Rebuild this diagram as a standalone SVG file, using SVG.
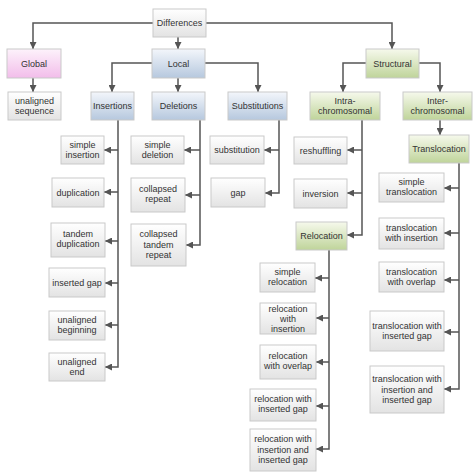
<svg xmlns="http://www.w3.org/2000/svg" width="474" height="474" viewBox="0 0 474 474">
<defs>
<linearGradient id="gG" x1="0" y1="0" x2="0" y2="1"><stop offset="0" stop-color="#ffffff"/><stop offset="1" stop-color="#e3e3e3"/></linearGradient>
<linearGradient id="gB" x1="0" y1="0" x2="0" y2="1"><stop offset="0" stop-color="#f3f6fb"/><stop offset="1" stop-color="#b6c8de"/></linearGradient>
<linearGradient id="gV" x1="0" y1="0" x2="0" y2="1"><stop offset="0" stop-color="#f6f9ec"/><stop offset="1" stop-color="#bfd49a"/></linearGradient>
<linearGradient id="gP" x1="0" y1="0" x2="0" y2="1"><stop offset="0" stop-color="#fdf2fb"/><stop offset="1" stop-color="#f2bdea"/></linearGradient>
<marker id="ah" viewBox="0 0 10 10" refX="9" refY="5" markerWidth="4.5" markerHeight="4.5" orient="auto" markerUnits="userSpaceOnUse"><path d="M0,0 L10,5 L0,10 z" fill="#555"/></marker>
<marker id="a" viewBox="0 0 10 10" refX="10" refY="5" markerWidth="7" markerHeight="7" orient="auto" markerUnits="userSpaceOnUse"><path d="M0,0 L10,5 L0,10 z" fill="#555"/></marker>
</defs>
<style>
rect{stroke:#c9c9c9;stroke-width:1}
.g{fill:url(#gG)}.b{fill:url(#gB)}.v{fill:url(#gV)}.p{fill:url(#gP)}
text{font-family:"Liberation Sans",Arial,sans-serif;font-size:9px;fill:#333;text-anchor:middle}
#connectors path{fill:none;stroke:#555;stroke-width:1.5;marker-end:url(#a)}
</style>
<g id="connectors">
<path d="M153,23 H33 V49"/>
<path d="M206,23 H392 V49"/>
<path d="M178,37 V49"/>
<path d="M33,78 V92"/>
<path d="M152,63 H112 V92"/>
<path d="M178,78 V92"/>
<path d="M205,63 H258 V92"/>
<path d="M366,63 H343 V92"/>
<path d="M419,63 H440 V92"/>
<path d="M440,120 V135"/>
<path d="M118,120 V367 H105" />
<path d="M118,150 H104"/>
<path d="M118,192 H104"/>
<path d="M118,241 H105"/>
<path d="M118,283 H105"/>
<path d="M118,325 H105"/>
<path d="M200,120 V245 H186"/>
<path d="M200,150 H184"/>
<path d="M200,195 H185"/>
<path d="M279,120 V193 H265"/>
<path d="M279,150 H264"/>
<path d="M362,120 V235 H347"/>
<path d="M362,150 H347"/>
<path d="M362,193 H347"/>
<path d="M329,250 V449 H316"/>
<path d="M329,278 H315"/>
<path d="M329,318 H316"/>
<path d="M329,362 H316"/>
<path d="M329,406 H316"/>
<path d="M459,163 V389 H444"/>
<path d="M459,188 H444"/>
<path d="M459,233 H444"/>
<path d="M459,280 H444"/>
<path d="M459,332 H444"/>
</g>
<g id="differences"><rect class="g" x="153" y="9" width="53" height="28"/><text x="179.5" y="26">Differences</text></g>
<g id="global"><rect class="p" x="7" y="49" width="54" height="29"/><text x="34" y="66.5">Global</text></g>
<g id="unaligned-sequence"><rect class="g" x="8" y="92" width="53" height="28"/><text x="34.5" y="104">unaligned</text><text x="34.5" y="114">sequence</text></g>
<g id="local"><rect class="b" x="152" y="49" width="53" height="29"/><text x="178.5" y="66.5">Local</text></g>
<g id="structural"><rect class="v" x="366" y="49" width="53" height="29"/><text x="392.5" y="66.5">Structural</text></g>
<g id="insertions"><rect class="b" x="91" y="92" width="43" height="28"/><text x="112.5" y="109">Insertions</text></g>
<g id="deletions"><rect class="b" x="152" y="92" width="53" height="28"/><text x="178.5" y="109">Deletions</text></g>
<g id="substitutions"><rect class="b" x="228" y="92" width="59" height="28"/><text x="257.5" y="109">Substitutions</text></g>
<g id="intra"><rect class="v" x="310" y="92" width="70" height="28"/><text x="345" y="104">Intra-</text><text x="345" y="114">chromosomal</text></g>
<g id="inter"><rect class="v" x="403" y="92" width="69" height="28"/><text x="437.5" y="104">Inter-</text><text x="437.5" y="114">chromosomal</text></g>
<g id="simple-insertion"><rect class="g" x="61" y="136" width="43" height="28"/><text x="82.5" y="148">simple</text><text x="82.5" y="158">insertion</text></g>
<g id="duplication"><rect class="g" x="52" y="178" width="52" height="29"/><text x="78" y="195.5">duplication</text></g>
<g id="tandem-duplication"><rect class="g" x="51" y="223" width="54" height="34"/><text x="78" y="237">tandem</text><text x="78" y="247">duplication</text></g>
<g id="inserted-gap"><rect class="g" x="49" y="268" width="56" height="29"/><text x="77" y="285.5">inserted gap</text></g>
<g id="unaligned-beginning"><rect class="g" x="49" y="311" width="56" height="29"/><text x="77" y="323">unaligned</text><text x="77" y="333">beginning</text></g>
<g id="unaligned-end"><rect class="g" x="49" y="353" width="56" height="28"/><text x="77" y="365">unaligned</text><text x="77" y="375">end</text></g>
<g id="simple-deletion"><rect class="g" x="131" y="136" width="53" height="28"/><text x="157.5" y="148">simple</text><text x="157.5" y="158">deletion</text></g>
<g id="collapsed-repeat"><rect class="g" x="131" y="178" width="54" height="34"/><text x="158" y="192">collapsed</text><text x="158" y="202">repeat</text></g>
<g id="collapsed-tandem-repeat"><rect class="g" x="131" y="224" width="55" height="42"/><text x="158.5" y="237">collapsed</text><text x="158.5" y="247.5">tandem</text><text x="158.5" y="258">repeat</text></g>
<g id="substitution"><rect class="g" x="210" y="136" width="54" height="28"/><text x="237" y="153">substitution</text></g>
<g id="gap"><rect class="g" x="211" y="178" width="54" height="29"/><text x="238" y="195.5">gap</text></g>
<g id="reshuffling"><rect class="g" x="294" y="137" width="53" height="27"/><text x="320.5" y="153.5">reshuffling</text></g>
<g id="inversion"><rect class="g" x="294" y="179" width="53" height="29"/><text x="320.5" y="196.5">inversion</text></g>
<g id="relocation"><rect class="v" x="296" y="222" width="51" height="28"/><text x="321.5" y="239">Relocation</text></g>
<g id="translocation"><rect class="v" x="409" y="135" width="60" height="28"/><text x="439" y="152">Translocation</text></g>
<g id="simple-relocation"><rect class="g" x="260" y="263" width="55" height="29"/><text x="287.5" y="275">simple</text><text x="287.5" y="285">relocation</text></g>
<g id="relocation-with-insertion"><rect class="g" x="260" y="303" width="56" height="31"/><text x="288" y="311.5">relocation</text><text x="288" y="321.5">with</text><text x="288" y="331.5">insertion</text></g>
<g id="relocation-with-overlap"><rect class="g" x="260" y="345" width="56" height="34"/><text x="288" y="359">relocation</text><text x="288" y="369">with overlap</text></g>
<g id="relocation-with-inserted-gap"><rect class="g" x="250" y="389" width="66" height="32"/><text x="283" y="402">relocation with</text><text x="283" y="412">inserted gap</text></g>
<g id="relocation-with-insertion-and-inserted-gap"><rect class="g" x="250" y="429" width="66" height="42"/><text x="283" y="442">relocation with</text><text x="283" y="452.5">insertion and</text><text x="283" y="463">inserted gap</text></g>
<g id="simple-translocation"><rect class="g" x="379" y="173" width="65" height="29"/><text x="411.5" y="185">simple</text><text x="411.5" y="195">translocation</text></g>
<g id="translocation-with-insertion"><rect class="g" x="379" y="218" width="65" height="31"/><text x="411.5" y="231">translocation</text><text x="411.5" y="241">with insertion</text></g>
<g id="translocation-with-overlap"><rect class="g" x="379" y="262" width="65" height="30"/><text x="411.5" y="275">translocation</text><text x="411.5" y="285">with overlap</text></g>
<g id="translocation-with-inserted-gap"><rect class="g" x="370" y="311" width="74" height="40"/><text x="407" y="329">translocation with</text><text x="407" y="339">inserted gap</text></g>
<g id="translocation-with-insertion-and-inserted-gap"><rect class="g" x="370" y="366" width="74" height="47"/><text x="407" y="382">translocation with</text><text x="407" y="392.5">insertion and</text><text x="407" y="403">inserted gap</text></g>
</svg>
